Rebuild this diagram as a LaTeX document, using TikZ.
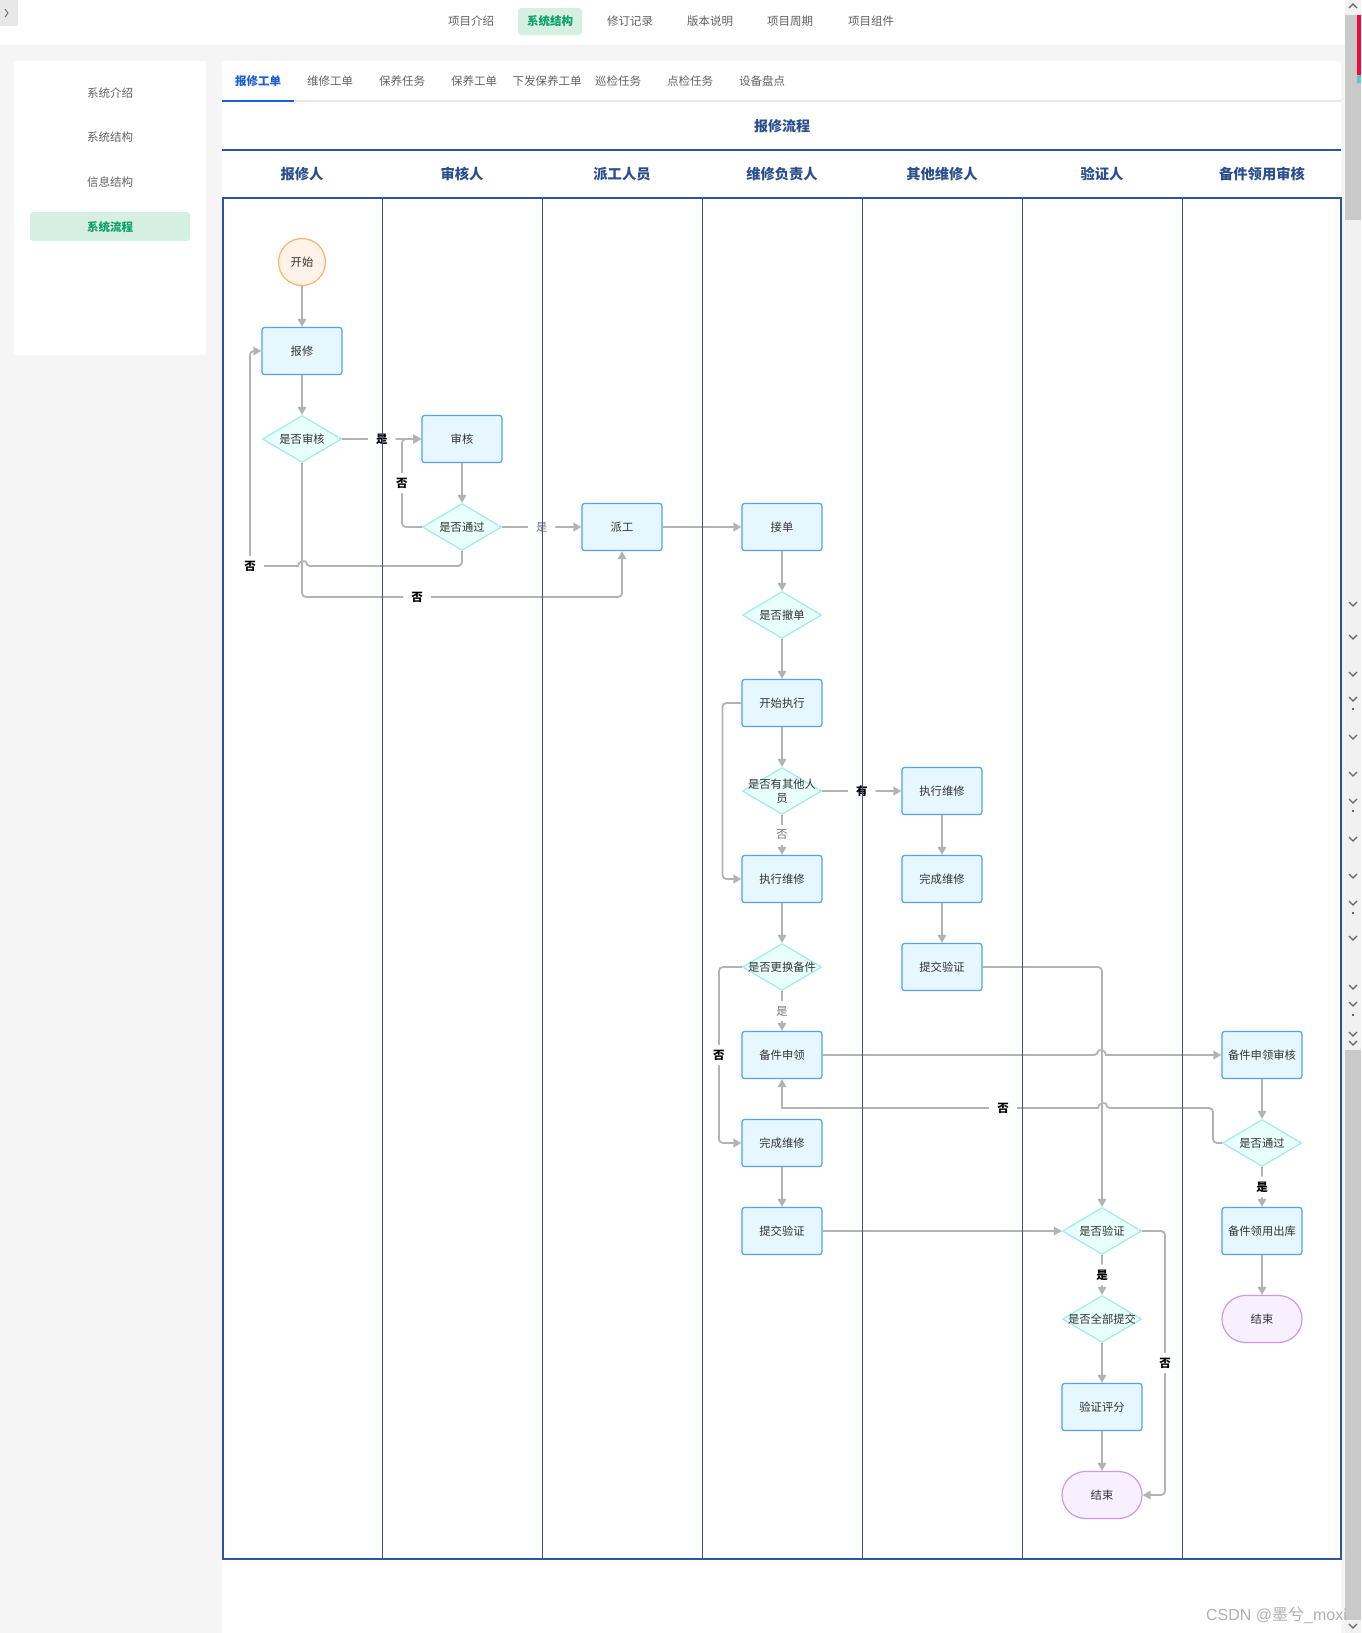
\documentclass[tikz,border=0pt]{standalone}
\usepackage{fontspec}
\setmainfont{Noto Sans CJK SC}
\usetikzlibrary{shapes.geometric,arrows.meta,calc}
\definecolor{pagebg}{HTML}{F5F5F5}
\definecolor{boxfill}{HTML}{E6F7FF}
\definecolor{boxline}{HTML}{4DA3F5}
\definecolor{diafill}{HTML}{E8FFFB}
\definecolor{dialine}{HTML}{9EEDE6}
\definecolor{stfill}{HTML}{FFF2E8}
\definecolor{stline}{HTML}{FFB366}
\definecolor{endfill}{HTML}{F8F0FF}
\definecolor{endline}{HTML}{C99BF0}
\definecolor{edgecol}{HTML}{B3B3B3}
\definecolor{lanecol}{HTML}{2D56A0}
\definecolor{headcol}{HTML}{2B4E8F}
\definecolor{txt}{HTML}{333333}
\definecolor{tabtxt}{HTML}{606266}
\definecolor{selbg}{HTML}{D5F0E2}
\definecolor{selgreen}{HTML}{0E9F6B}
\definecolor{tabblue}{HTML}{1A5FD8}
\definecolor{tabline}{HTML}{E8E8E8}
\definecolor{lblgray}{HTML}{777777}
\definecolor{sbtrack}{HTML}{F1F1F1}
\definecolor{sbthumb}{HTML}{C9C9C9}
\definecolor{sbred}{HTML}{F0083C}
\definecolor{sbcyan}{HTML}{5CC8C8}
\definecolor{chevcol}{HTML}{666666}
\definecolor{wmcol}{HTML}{B0B0B0}
\newfontfamily\wmfont{Liberation Sans}
\newcommand\nodefont{\fontsize{11.3}{13.5}\selectfont}
\newcommand\lblfont{\fontsize{11.5}{13}\selectfont\bfseries}
\newcommand\tabfont{\fontsize{11.5}{13}\selectfont}
\newcommand\headfont{\fontsize{14.3}{16}\selectfont\bfseries}
\tikzset{
  box/.style={draw=boxline, fill=boxfill, rounded corners=2.5pt, minimum width=80pt,
    minimum height=47pt, inner sep=1pt, line width=1.2pt, font=\nodefont, text=txt},
  dia/.style={diamond, draw=dialine, fill=diafill, minimum width=79pt, minimum height=47pt,
    inner sep=0pt, line width=1.2pt},
  dtext/.style={font=\nodefont, text=txt, align=center},
  startnode/.style={circle, draw=stline, fill=stfill, minimum size=47pt, inner sep=0pt,
    line width=1.2pt, font=\nodefont, text=txt},
  endnode/.style={draw=endline, fill=endfill, rounded corners=23.5pt, minimum width=80pt,
    minimum height=47pt, inner sep=0pt, line width=1.2pt, font=\nodefont, text=txt},
  flow/.style={draw=edgecol, line width=1.8pt, rounded corners=4pt,
    -{Triangle[length=8pt,width=8.5pt]}},
  lbl/.style={fill=white, inner xsep=8pt, inner ysep=5pt, font=\lblfont, text=black},
  lblg/.style={lbl, font=\nodefont, text=lblgray},
  tab/.style={font=\tabfont, text=tabtxt},
  seltab/.style={font=\tabfont\bfseries, text=selgreen},
  lanehead/.style={font=\headfont, text=headcol},
  chev/.style={draw=chevcol, line width=1.2pt}
}
\begin{document}
\begin{tikzpicture}[x=1pt,y=-1pt]
\useasboundingbox (0,0) rectangle (1361,1633);
% ---------- page background ----------
\fill[pagebg] (0,0) rectangle (1361,1633);
\fill[white] (0,0) rectangle (1345,45);
\fill[tabline] (0,0) rectangle (18,26);
\draw[tabtxt, line width=0.8pt] (5,9) -- (8,13) -- (5,17);
% top tabs
\fill[selbg, rounded corners=3pt] (518,8) rectangle (582,35);
\node[tab] (tt1) at (471,21) {项目介绍};
\node[seltab] (tt2) at (550,21) {系统结构};
\node[tab] (tt3) at (630,21) {修订记录};
\node[tab] (tt4) at (710,21) {版本说明};
\node[tab] (tt5) at (790,21) {项目周期};
\node[tab] (tt6) at (871,21) {项目组件};
% sidebar
\fill[white, rounded corners=3pt] (14,61) rectangle (206,355);
\node[tab] (s1) at (110,93) {系统介绍};
\node[tab] (s2) at (110,137) {系统结构};
\node[tab] (s3) at (110,182) {信息结构};
\fill[selbg, rounded corners=3pt] (30,212) rectangle (190,241);
\node[seltab] (s4) at (110,227) {系统流程};
% main panel
\fill[white, rounded corners=3pt] (222,61) rectangle (1341,1633);
\fill[white] (222,1600) rectangle (1341,1633);
\draw[tabline, line width=1.5pt] (222,101) -- (1341,101);
\draw[tabblue, line width=2pt] (222,101) -- (294,101);
\node[font=\tabfont\bfseries, text=tabblue] (st1) at (258,81) {报修工单};
\node[tab] (st2) at (330,81) {维修工单};
\node[tab] (st3) at (402,81) {保养任务};
\node[tab] (st4) at (474,81) {保养工单};
\node[tab] (st5) at (547,81) {下发保养工单};
\node[tab] (st6) at (618,81) {巡检任务};
\node[tab] (st7) at (690,81) {点检任务};
\node[tab] (st8) at (762,81) {设备盘点};
% title and lane headers
\node[font=\fontsize{14}{16}\selectfont\bfseries, text=headcol] (title) at (782,126) {报修流程};
\draw[lanecol, line width=1.8pt] (222,150) -- (1341,150);
\node[lanehead] (h1) at (302,174) {报修人};
\node[lanehead] (h2) at (462,174) {审核人};
\node[lanehead] (h3) at (622,174) {派工人员};
\node[lanehead] (h4) at (782,174) {维修负责人};
\node[lanehead] (h5) at (942,174) {其他维修人};
\node[lanehead] (h6) at (1102,174) {验证人};
\node[lanehead] (h7) at (1262,174) {备件领用审核};
% ---------- nodes ----------
\node[startnode] (start) at (302,262) {开始};
\node[box] (bx) at (302,351) {报修};
\node[dia, label={[dtext]center:是否审核}] (d1) at (302,439) {};
\node[box] (sh) at (462,439) {审核};
\node[dia, label={[dtext]center:是否通过}] (d2) at (462,527) {};
\node[box] (pg) at (622,527) {派工};
\node[box] (jd) at (782,527) {接单};
\node[dia, label={[dtext]center:是否撤单}] (d3) at (782,615) {};
\node[box] (ks) at (782,703) {开始执行};
\node[dia, label={[dtext]center:是否有其他人\\员}] (d4) at (782,791) {};
\node[box] (zx2) at (942,791) {执行维修};
\node[box] (zx1) at (782,879) {执行维修};
\node[box] (wc2) at (942,879) {完成维修};
\node[dia, label={[dtext]center:是否更换备件}] (d5) at (782,967) {};
\node[box] (tj2) at (942,967) {提交验证};
\node[box] (sl) at (782,1055) {备件申领};
\node[box] (slsh) at (1262,1055) {备件申领审核};
\node[box] (wc1) at (782,1143) {完成维修};
\node[dia, label={[dtext]center:是否通过}] (d6) at (1262,1143) {};
\node[box] (tj1) at (782,1231) {提交验证};
\node[dia, label={[dtext]center:是否验证}] (d7) at (1102,1231) {};
\node[box] (ck) at (1262,1231) {备件领用出库};
\node[dia, label={[dtext]center:是否全部提交}] (d8) at (1102,1319) {};
\node[endnode] (end2) at (1262,1319) {结束};
\node[box] (pf) at (1102,1407) {验证评分};
\node[endnode] (end1) at (1102,1495) {结束};
% ---------- connectors ----------
\draw[flow] (start) -- (bx);
\draw[flow] (bx) -- (d1);
\draw[flow] (d1.east) -- node[lbl]{是} (sh.west);
\draw[flow] (d2.west) -- ++(-20,0) |- node[lbl,pos=0.25]{否} (sh.west);
\draw[flow] (sh) -- (d2);
\draw[flow] (d2.east) -- node[lblg]{是} (pg.west);
\draw[flow] (d2.south) -- (462,566) -- (306,566) [sharp corners]
  .. controls (306,560.5) and (298,560.5) .. (298,566) -- (250,566) node[lbl]{否}
  [rounded corners=4pt] -- (250,351) -- (bx.west);
\draw[flow] (d1.south) -- (302,597) -- node[lbl,pos=0.36]{否} (622,597) -- (pg.south);
\draw[flow] (pg) -- (jd);
\draw[flow] (jd) -- (d3);
\draw[flow] (d3) -- (ks);
\draw[flow] (ks) -- (d4);
\draw[flow] (d4.east) -- node[lbl]{有} (zx2.west);
\draw[flow] (d4.south) -- node[lblg]{否} (zx1.north);
\draw[flow] (ks.west) -- ++(-19,0) |- (zx1.west);
\draw[flow] (zx2) -- (wc2);
\draw[flow] (wc2) -- (tj2);
\draw[flow] (tj2.east) -| (d7.north);
\draw[flow] (zx1) -- (d5);
\draw[flow] (d5.south) -- node[lblg]{是} (sl.north);
\draw[flow] (d5.west) -- ++(-23,0) |- node[lbl,pos=0.25]{否} (wc1.west);
\draw[flow] (sl.east) -- (1098,1055) [sharp corners]
  .. controls (1098,1049.5) and (1106,1049.5) .. (1106,1055) -- (slsh.west);
\draw[flow] (slsh) -- (d6);
\draw[flow] (d6.west) -- (1213,1143) -- (1213,1108) -- (1106,1108) [sharp corners]
  .. controls (1106,1102.5) and (1098,1102.5) .. (1098,1108)
  -- node[lbl,pos=0.3]{否} (782,1108) [rounded corners=4pt] -- (sl.south);
\draw[flow] (d6.south) -- node[lbl]{是} (ck.north);
\draw[flow] (ck) -- (end2);
\draw[flow] (wc1) -- (tj1);
\draw[flow] (tj1.east) -- (d7.west);
\draw[flow] (d7.south) -- node[lbl]{是} (d8.north);
\draw[flow] (d8) -- (pf);
\draw[flow] (pf) -- (end1);
\draw[flow] (d7.east) -- (1165,1231) -- node[lbl]{否} (1165,1495) -- (end1.east);
% ---------- swimlane frame ----------
\draw[lanecol, line width=1.2pt] (223,198) rectangle (1341,1559);
\foreach \xx in {382.5,542.5,702.5,862.5,1022.5,1182.5}
  \draw[lanecol, line width=1pt] (\xx,198) -- (\xx,1559);
% ---------- scrollbar ----------
\fill[sbtrack] (1345,0) rectangle (1361,1633);
\fill[sbthumb] (1345,15) rectangle (1361,220);
\fill[sbred] (1357,15) rectangle (1361,75);
\fill[sbcyan] (1357,75) rectangle (1361,83);
\fill[sbthumb] (1345,1050) rectangle (1361,1620);
\draw[chev] (1349,8) -- (1353,4) -- (1357,8);
\foreach \yy in {604,637,674,699,737,774,801,839,876,903,938,987,1004,1034,1043,1626}
  \draw[chev] (1349,\yy-2) -- (1353,\yy+2) -- (1357,\yy-2);
\foreach \yy in {708,810,912,1014}
  \fill[chevcol] (1352,\yy) rectangle (1354,\yy+1.5);
% ---------- watermark ----------
\node[font=\fontsize{16}{18}\selectfont, text=wmcol, anchor=east, inner sep=0pt] (wm) at (1347,1615) {{\wmfont CSDN @}墨兮{\wmfont \_moxi}};
\end{tikzpicture}
\end{document}
